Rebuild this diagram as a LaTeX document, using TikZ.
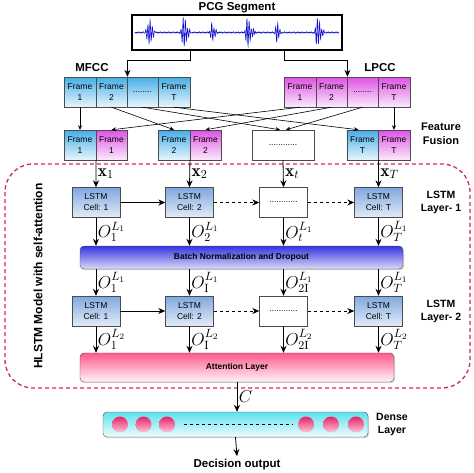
\documentclass[tikz,border=0pt]{standalone}
\usepackage{fontspec}
\setsansfont{Liberation Sans}
\usetikzlibrary{arrows.meta,positioning,shadows}

\definecolor{mfblue}{HTML}{45AEE8}
\definecolor{lpmag}{HTML}{DE52E6}
\definecolor{lsblue}{HTML}{7FA8DE}
\definecolor{bnblue}{HTML}{3434DE}
\definecolor{attpink}{HTML}{FF5A8C}
\definecolor{dncyan}{HTML}{5CE2EE}
\definecolor{dotpink}{HTML}{E8226A}
\definecolor{framered}{HTML}{D42A4A}
\definecolor{wave}{HTML}{1010D0}

\tikzset{
  title/.style={font=\sffamily\bfseries\fontsize{11.5}{13}\selectfont, align=center},
  side/.style={font=\sffamily\bfseries\fontsize{10.5}{13}\selectfont, align=center},
  cell/.style={draw=black!70, inner sep=0pt, minimum width=31.5pt, minimum height=30pt,
    align=center, font=\sffamily\fontsize{8.5}{11}\selectfont},
  mcell/.style={cell, top color=mfblue, bottom color=mfblue!12},
  lcell/.style={cell, top color=lpmag, bottom color=lpmag!12},
  lstm/.style={draw=black!70, inner sep=0pt, minimum width=48pt, minimum height=30pt,
    align=center, top color=lsblue, bottom color=lsblue!22, font=\sffamily\fontsize{8.5}{11}\selectfont},
  blank/.style={lstm, top color=white, bottom color=white},
  bar/.style={draw=black!70, rounded corners=4pt, inner sep=0pt,
    font=\sffamily\bfseries\fontsize{8.5}{10}\selectfont,
    drop shadow={opacity=0.35, shadow xshift=1pt, shadow yshift=-1.2pt}},
  dot/.style={circle, inner sep=0pt, minimum size=16pt, top color=dotpink, bottom color=dotpink!25},
  arr/.style={thick, -{Stealth[length=7pt,width=6pt]}},
  xarr/.style={semithick, -{Stealth[length=4.5pt,width=4pt]}},
  lab/.style={right, inner sep=1.2pt, font=\Large, scale=1.2},
  declare function={bu(\u,\c,\a)=\a*exp(-((\u-\c)/1.6)^2)*sin(360*mod(\u,2.2)/2.2);}
}

\begin{document}
\begin{tikzpicture}[x=1pt, y=-1pt]
    \useasboundingbox (0,0) rectangle (474,472);

    % PCG segment
    \node[title] (pcgt) at (237,8) {PCG Segment};
    \node[draw, very thick, minimum width=210pt, minimum height=35pt, inner sep=0pt] (pcg) at (237,32.5) {};
    \draw[wave, line width=0.6pt] plot[domain=135:339, samples=800, variable=\t]
        (\t, {32.5 - 0.5*sin(360*mod(\t,1.7)/1.7) - 0.3*sin(360*mod(\t,4.3)/4.3)
        - bu(\t,147,7) - bu(\t,150,12) - bu(\t,153,5)
        - bu(\t,183,14) - bu(\t,185.5,11) - bu(\t,189,4)
        - bu(\t,212,10) - bu(\t,215,4)
        - bu(\t,247,13) - bu(\t,249.5,10) - bu(\t,253,4)
        - bu(\t,277,10) - bu(\t,280,3)
        - bu(\t,317,14) - bu(\t,319.5,9) - bu(\t,323,3)});

    % MFCC and LPCC frames
    \node[mcell] (mf1) at (80,92) {Frame\\1};
    \node[mcell] (mf2) at (111.5,92) {Frame\\2};
    \node[mcell] (mf3) at (142.5,92) {........};
    \node[mcell] (mf4) at (174,92) {Frame\\T};

    \node[lcell] (lp1) at (300,92) {Frame\\1};
    \node[lcell] (lp2) at (331.5,92) {Frame\\2};
    \node[lcell] (lp3) at (362.5,92) {........};
    \node[lcell] (lp4) at (394,92) {Frame\\T};

    \node[title, above=2pt of mf1.north east, xshift=-4pt] (mfl) {MFCC};
    \node[title, above=2pt of lp4.north west, xshift=2pt] (lpl) {LPCC};

    \draw[arr] ([xshift=-47pt]pcg.south) -- ++(0,10) -| (mf2.north east);
    \draw[arr] ([xshift=47pt]pcg.south) -- ++(0,10) -| (lp2.north east);

    % feature fusion
    \node[mcell] (f1a) at (80,145) {Frame\\1};
    \node[lcell] (f1b) at (111.5,145) {Frame\\1};
    \node[mcell] (f2a) at (174,145) {Frame\\2};
    \node[lcell] (f2b) at (205.5,145) {Frame\\2};
    \node[cell, minimum width=62pt] (fd) at (283,145) {............};
    \node[mcell] (f4a) at (362.5,145) {Frame\\T};
    \node[lcell] (f4b) at (394,145) {Frame\\T};

    \node[title, font=\sffamily\bfseries\fontsize{11}{13.5}\selectfont] (ffl) at (441,134) {Feature\\Fusion};

    \draw[xarr] (mf1.south) -- (f1a.north);
    \draw[xarr] (mf2.south) -- (f2a.north);
    \draw[xarr] (mf3.south) -- ([xshift=-3pt]fd.north);
    \draw[xarr] (mf4.south) -- ([xshift=-4pt]f4a.north);
    \draw[xarr] (lp1.south) -- (f1b.north);
    \draw[xarr] (lp2.south) -- (f2b.north);
    \draw[xarr] (lp3.south) -- ([xshift=3pt]fd.north);
    \draw[xarr] (lp4.south) -- (f4b.north);

    % HLSTM frame
    \draw[framered, line width=1.3pt, dash pattern=on 4pt off 3pt, rounded corners=28pt] (5,164) rectangle (470,388);
    \node[title, rotate=90, font=\sffamily\bfseries\fontsize{12}{14}\selectfont] (hl) at (38,276) {HLSTM Model with self-attention};

    % LSTM layer 1
    \node[lstm] (c11) at (96,202.5) {LSTM\\Cell: 1};
    \node[lstm] (c12) at (189.5,202.5) {LSTM\\Cell: 2};
    \node[blank] (c13) at (283.5,202.5) {............};
    \node[lstm] (c14) at (378.5,202.5) {LSTM\\Cell: T};
    \node[side] (ly1) at (441,202.5) {LSTM\\Layer- 1};

    \draw[arr] (f1a.south east) -- (c11.north) node[lab, midway] {$\mathbf{x}_1$};
    \draw[arr] (f2a.south east) -- (c12.north) node[lab, midway] {$\mathbf{x}_2$};
    \draw[arr] (fd.south) -- (c13.north) node[lab, midway] {$\mathbf{x}_t$};
    \draw[arr] (f4a.south east) -- (c14.north) node[lab, midway] {$\mathbf{x}_T$};

    \draw[arr] (c11) -- (c12);
    \draw[arr, dashed] (c12) -- (c13);
    \draw[arr, dashed] (c13) -- (c14);

    % batch normalization
    \node[bar, minimum width=323pt, minimum height=23pt, top color=bnblue, bottom color=bnblue!18] (bn) at (241.5,257.5) {Batch Normalization and Dropout};

    \draw[arr] (c11.south) -- (c11.south |- bn.north) node[lab, midway] {$O_1^{L_1}$};
    \draw[arr] (c12.south) -- (c12.south |- bn.north) node[lab, midway] {$O_2^{L_1}$};
    \draw[arr] (c13.south) -- (c13.south |- bn.north) node[lab, midway] {$O_t^{L_1}$};
    \draw[arr] (c14.south) -- (c14.south |- bn.north) node[lab, midway] {$O_T^{L_1}$};

    % LSTM layer 2
    \node[lstm] (c21) at (96,311) {LSTM\\Cell: 1};
    \node[lstm] (c22) at (189.5,311) {LSTM\\Cell: 2};
    \node[blank] (c23) at (283.5,311) {............};
    \node[lstm] (c24) at (378.5,311) {LSTM\\Cell: T};
    \node[side] (ly2) at (441,311) {LSTM\\Layer- 2};

    \draw[arr] (c21.north |- bn.south) -- (c21.north) node[lab, midway] {$O_1^{L_1}$};
    \draw[arr] (c22.north |- bn.south) -- (c22.north) node[lab, midway] {$O_{\mathrm{I}}^{L_1}$};
    \draw[arr] (c23.north |- bn.south) -- (c23.north) node[lab, midway] {$O_{2\mathrm{I}}^{L_1}$};
    \draw[arr] (c24.north |- bn.south) -- (c24.north) node[lab, midway] {$O_T^{L_1}$};

    \draw[arr] (c21) -- (c22);
    \draw[arr, dashed] (c22) -- (c23);
    \draw[arr, dashed] (c23) -- (c24);

    % attention layer
    \node[bar, minimum width=314pt, minimum height=29pt, top color=attpink, bottom color=attpink!6] (att) at (237,367.5) {Attention Layer};

    \draw[arr] (c21.south) -- (c21.south |- att.north) node[lab, midway] {$O_1^{L_2}$};
    \draw[arr] (c22.south) -- (c22.south |- att.north) node[lab, midway] {$O_{\mathrm{I}}^{L_2}$};
    \draw[arr] (c23.south) -- (c23.south |- att.north) node[lab, midway] {$O_{2\mathrm{I}}^{L_2}$};
    \draw[arr] (c24.south) -- (c24.south |- att.north) node[lab, midway] {$O_T^{L_2}$};

    % dense layer
    \node[bar, minimum width=265pt, minimum height=25pt, top color=dncyan, bottom color=dncyan!8] (dn) at (235.5,424.5) {};
    \node[dot] (d1) at (120,424.5) {};
    \node[dot] (d2) at (143.5,424.5) {};
    \node[dot] (d3) at (167,424.5) {};
    \node[dot] (d4) at (306,424.5) {};
    \node[dot] (d5) at (331,424.5) {};
    \node[dot] (d6) at (356,424.5) {};
    \draw[thick, dashed] ([xshift=9pt]d3.east) -- ([xshift=-5pt]d4.west);
    \node[side] (dnl) at (392,424.5) {Dense\\Layer};

    \draw[arr] (att.south) -- (att.south |- dn.north) node[lab, midway] {$C$};

    \node[title] (out) at (237,465) {Decision output};
    \draw[arr] (dn.south) -- (out.north);
\end{tikzpicture}
\end{document}
